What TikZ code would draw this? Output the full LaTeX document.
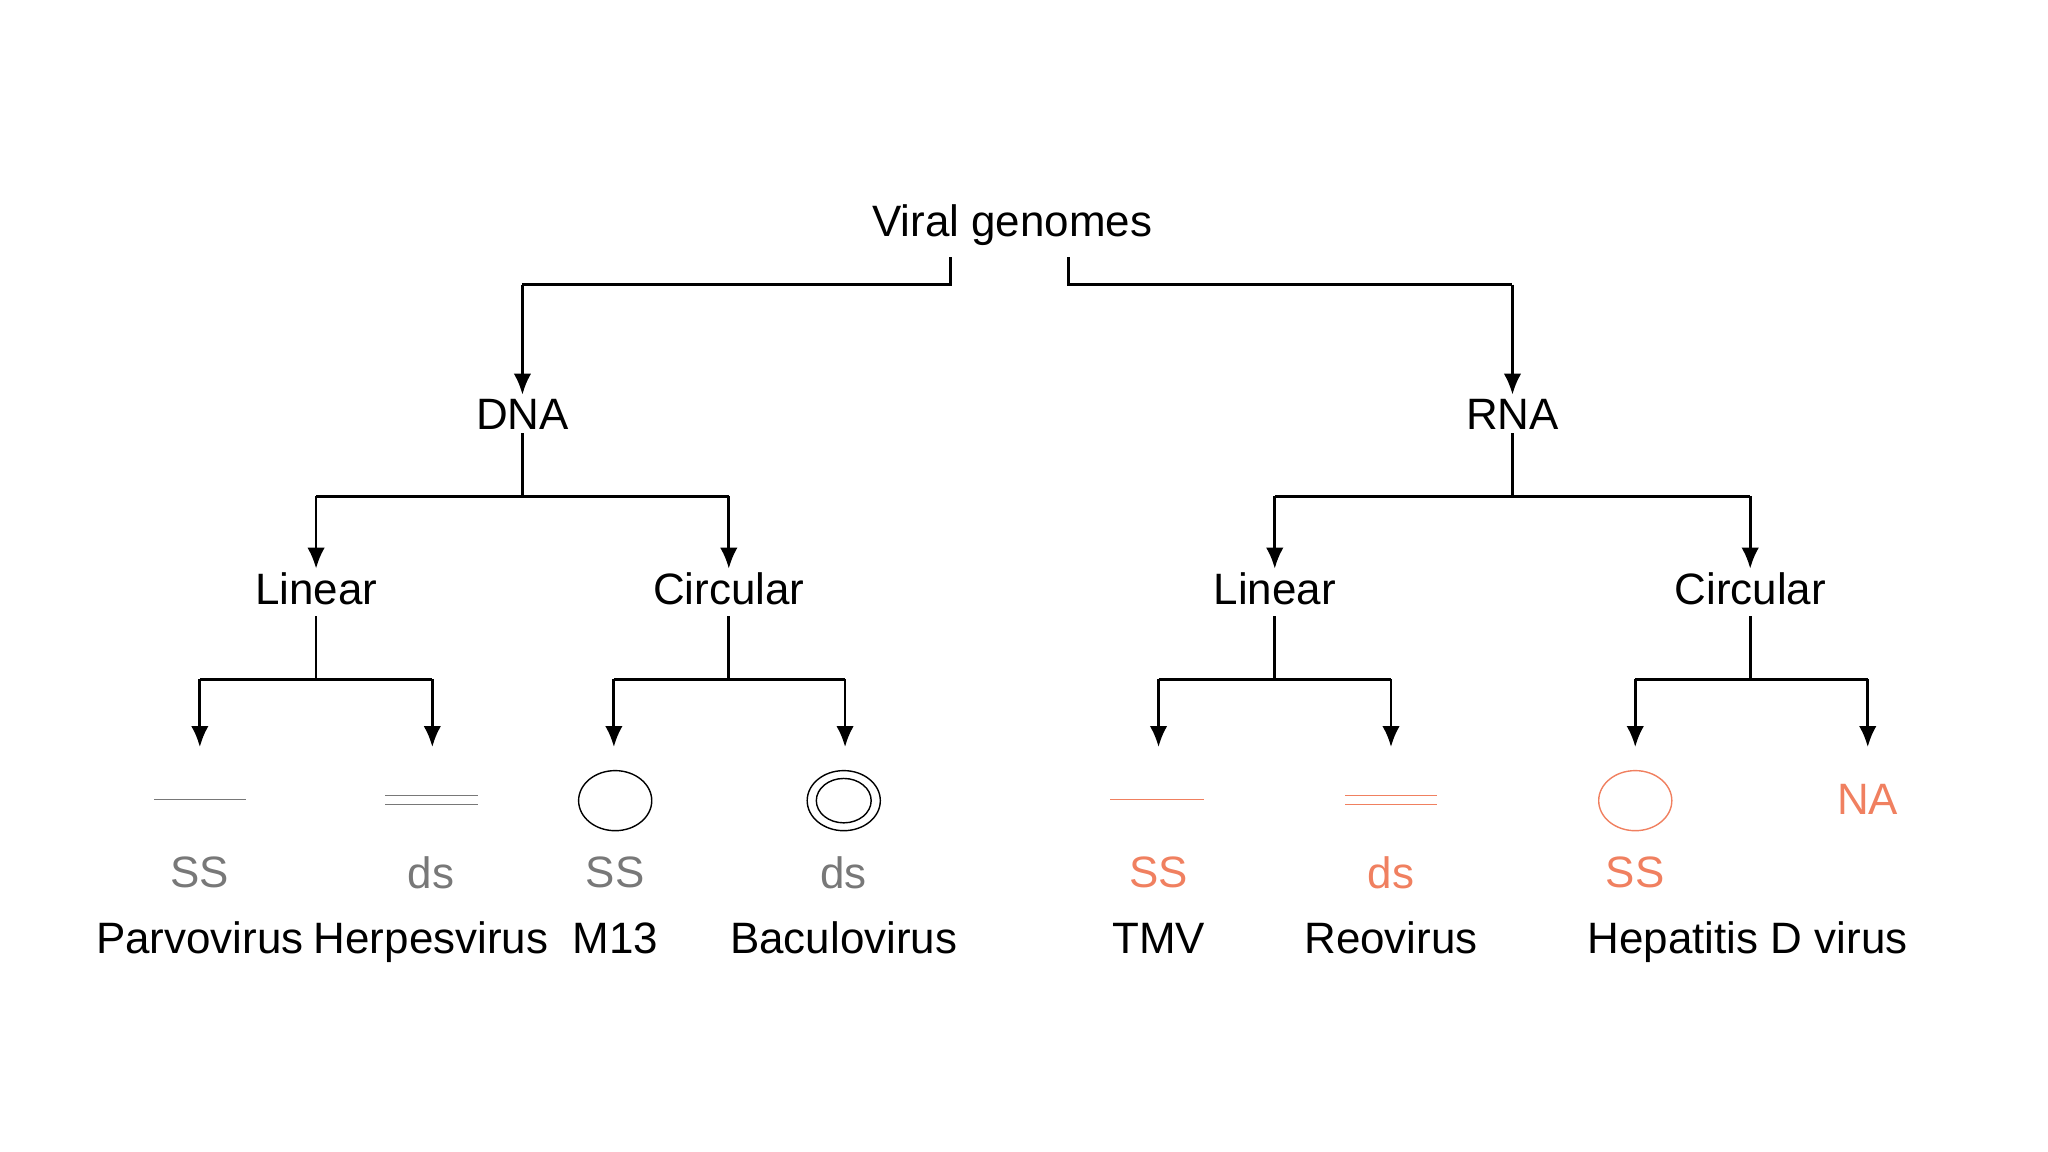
\documentclass[tikz,border=0pt]{standalone}
\usepackage{fontspec}
\setmainfont{Liberation Sans}
\usetikzlibrary{arrows.meta}
\definecolor{salmon}{RGB}{240,128,96}
\definecolor{lbl}{RGB}{120,120,120}
\tikzset{
  t/.style={inner sep=1pt,font=\fontsize{12.5}{14}\selectfont},
  sub/.style={t,text=lbl},
  red/.style={t,text=salmon},
  ar/.style={-{Latex[length=6pt,width=5pt]},thick},
  ln/.style={thick}
}
\begin{document}
\begin{tikzpicture}[x=0.01306cm,y=-0.01306cm]
\useasboundingbox (0,0) rectangle (1568,882);
% top level
\node[t] (root) at (775,172) {Viral genomes};
\node[t] (dna) at (400,317) {DNA};
\node[t] (rna) at (1158,317) {RNA};
\coordinate (r1) at (728,197); \coordinate (r2) at (818,197);
\draw[ln] (r1) -- (728,218) -- (400,218) edge[ar] (dna.north);
\draw[ln] (r2) -- (818,218) -- (1158,218) edge[ar] (rna.north);
% second level
\node[t] (dl) at (242,451) {Linear};
\node[t] (dc) at (558,451) {Circular};
\node[t] (rl) at (976,451) {Linear};
\node[t] (rc) at (1340,451) {Circular};
\draw[ln] (dna.south) -- (400,380);
\draw[ln] (242,380) -- (558,380);
\draw[ar] (242,380) -- (dl.north);
\draw[ar] (558,380) -- (dc.north);
\draw[ln] (rna.south) -- (1158,380);
\draw[ln] (976,380) -- (1340,380);
\draw[ar] (976,380) -- (rl.north);
\draw[ar] (1340,380) -- (rc.north);
% third level
\foreach \p/\a/\b in {dl/153/331, dc/470/647, rl/887/1065, rc/1252/1430}{
  \draw[ln] ([yshift=-2pt]\p.south) -- (\p.south |- 0,520);
  \draw[ln] (\a,520) -- (\b,520);
  \draw[ar] (\a,520) -- (\a,572);
  \draw[ar] (\b,520) -- (\b,572);
}
% symbols
\draw[thin,lbl] (118,612) -- (188,612);
\draw[thin,lbl] (295,609) -- (366,609) (295,616) -- (366,616);
\draw[thin] (471,613) ellipse (28 and 23);
\draw[thin] (646,613) ellipse (28 and 23);
\draw[thin] (646,613) ellipse (21 and 17);
\draw[thin,salmon] (850,612) -- (922,612);
\draw[thin,salmon] (1030,609) -- (1100,609) (1030,616) -- (1100,616);
\draw[thin,salmon] (1252,613) ellipse (28 and 23);
\node[red] (na) at (1430,612) {NA};
% strand labels
\node[sub] (s1) at (153,668) {SS};
\node[sub] (s2) at (330,668) {ds};
\node[sub] (s3) at (471,668) {SS};
\node[sub] (s4) at (646,668) {ds};
\node[red] (s5) at (887,668) {SS};
\node[red] (s6) at (1065,668) {ds};
\node[red] (s7) at (1252,668) {SS};
% names
\foreach \n/\x/\s in {n1/153/Parvovirus, n2/330/Herpesvirus, n3/471/M13,
  n4/646/Baculovirus, n5/887/TMV, n6/1065/Reovirus, n7/1338/Hepatitis D virus}
  \node[t,anchor=base] (\n) at (\x,730) {\s};
\end{tikzpicture}
\end{document}
